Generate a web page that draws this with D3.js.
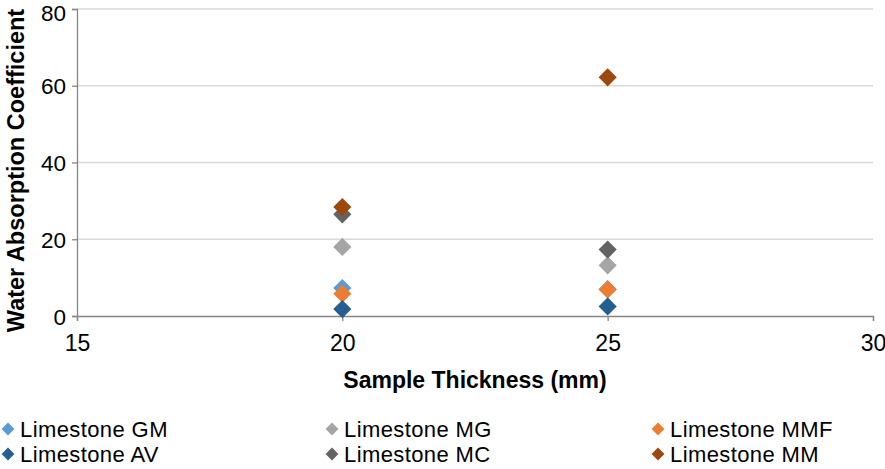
<!DOCTYPE html>
<html><head><meta charset="utf-8">
<script src="https://cdn.jsdelivr.net/npm/d3@7"></script>
<style>body{margin:0;background:#fff}svg{display:block}text{font-family:"Liberation Sans",Arial,sans-serif}</style>
</head><body><svg id="c" width="885" height="469"></svg>
<script>
const seriesNames = ["Limestone GM","Limestone MG","Limestone MMF","Limestone AV","Limestone MC","Limestone MM"];
const seriesColors = ["#5b9bd5","#a5a5a5","#ed7d31","#255e91","#636363","#9e480e"];
const thickness = [20, 25];
const valuesGM  = [7.3, 7.0];
const valuesMG  = [18.0, 13.2];
const valuesMMF = [5.8, 6.9];
const valuesAV  = [1.8, 2.5];
const valuesMC  = [26.5, 17.3];
const valuesMM  = [28.4, 62.2];
const xTicks = [15, 20, 25, 30];
const yTicks = [0, 20, 40, 60, 80];
const allValues = [valuesGM, valuesMG, valuesMMF, valuesAV, valuesMC, valuesMM];

const svg = d3.select("#c");
const x = d3.scaleLinear().domain([15, 30]).range([77, 873]);
const y = d3.scaleLinear().domain([0, 80]).range([316, 9]);

// grid
svg.append("g").selectAll("line").data(yTicks.filter(d=>d>0)).join("line")
  .attr("x1", x(15)).attr("x2", x(30)).attr("y1", d=>y(d)).attr("y2", d=>y(d))
  .attr("stroke", "#d9d9d9").attr("stroke-width", 1.3);

const yAxis = svg.append("g").attr("transform", `translate(${x(15)},0)`)
  .call(d3.axisLeft(y).tickValues(yTicks).tickSize(5).tickPadding(6));
const xAxis = svg.append("g").attr("transform", `translate(0,${y(0)})`)
  .call(d3.axisBottom(x).tickValues(xTicks).tickSize(5).tickPadding(14));
[yAxis, xAxis].forEach(g => {
  g.selectAll("path,line").attr("stroke", "#868686").attr("stroke-width", 1.3);
  g.selectAll("text").attr("font-size", 23).attr("fill", "#000")
    .attr("font-family", '"Liberation Sans",Arial,sans-serif');
});
yAxis.selectAll("text").attr("font-size", 22.5).attr("dy", d => d === 80 ? "0.52em" : "0.36em");

// titles
svg.append("text").attr("x", (x(15)+x(30))/2).attr("y", 388).attr("text-anchor","middle")
  .attr("font-size", 23).attr("font-weight","bold").text("Sample Thickness (mm)");
svg.append("text").attr("transform", `translate(24,${(y(0)+y(80))/2 + 8}) rotate(-90)`)
  .attr("text-anchor","middle").attr("font-size", 23.5).attr("font-weight","bold")
  .text("Water Absorption Coefficient");

// points
const diamond = d3.symbol().type(d3.symbolDiamond2).size(210);
allValues.forEach((vals, i) => {
  svg.append("g").selectAll("path").data(vals.map((v,j)=>[thickness[j], v])).join("path")
    .attr("d", diamond)
    .attr("transform", d => `translate(${x(d[0])},${y(d[1])})`)
    .attr("fill", seriesColors[i]);
});

// legend
const legX = [8, 332, 658], legY = [429, 454];
const small = d3.symbol().type(d3.symbolDiamond2).size(105);
seriesNames.forEach((n, i) => {
  const col = i % 3, row = Math.floor(i / 3);
  const g = svg.append("g").attr("transform", `translate(${legX[col]},${legY[row]})`);
  g.append("path").attr("d", small).attr("fill", seriesColors[i]);
  g.append("text").attr("x", 12).attr("y", 8).attr("font-size", 22).attr("letter-spacing", 0.4)
    .attr("fill","#000").text(n);
});
</script></body></html>
